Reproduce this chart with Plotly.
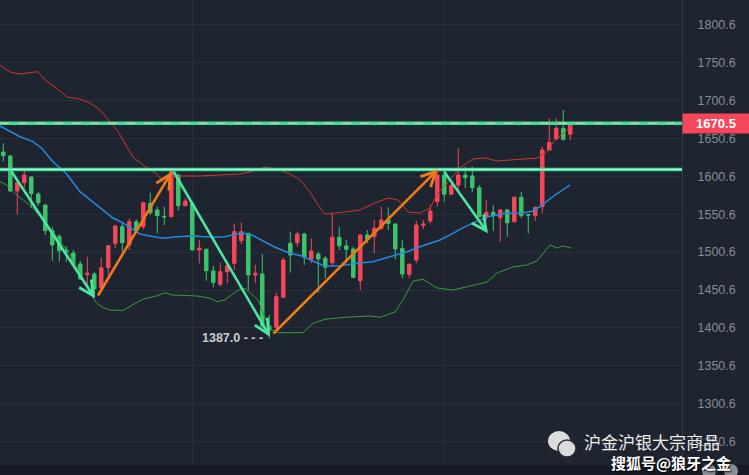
import plotly.graph_objects as go

# ---------------- data ----------------
opens = [1632.5, 1627.2, 1581.1, 1592.0, 1599.5, 1577.1, 1562.6, 1528.8, 1520.9, 1503.4,
         1499.4, 1484.9, 1470.8, 1471.7, 1453.7, 1480.0, 1512.2, 1534.0, 1510.0, 1540.6,
         1534.0, 1564.9, 1556.1, 1547.6, 1547.3, 1602.2, 1561.7, 1564.9, 1503.4, 1504.3,
         1475.7, 1458.2, 1474.8, 1485.8, 1515.6, 1525.3, 1470.4, 1471.7, 1403.3, 1401.5,
         1441.1, 1512.2, 1513.0, 1524.4, 1491.5, 1498.1, 1492.4, 1486.6, 1520.1, 1508.7,
         1504.7, 1462.9, 1523.1, 1520.9, 1532.0, 1542.9, 1537.6, 1505.6, 1471.4, 1490.2,
         1535.9, 1541.6, 1567.0, 1602.2, 1576.8, 1589.0, 1602.2, 1600.9, 1585.4, 1547.3,
         1553.0, 1545.9, 1556.1, 1540.6, 1572.8, 1549.8, 1548.6, 1560.4, 1635.1, 1649.6,
         1663.7, 1655.8]
highs = [1644.0, 1628.5, 1593.0, 1607.9, 1600.5, 1580.2, 1563.5, 1534.0, 1524.4, 1508.7,
         1503.4, 1488.9, 1494.5, 1474.8, 1493.2, 1510.0, 1536.5, 1538.5, 1544.6, 1543.8,
         1567.0, 1578.9, 1560.4, 1560.4, 1609.7, 1603.0, 1571.9, 1567.0, 1516.5, 1505.0,
         1482.3, 1486.6, 1486.6, 1538.5, 1539.3, 1526.0, 1483.6, 1498.1, 1417.7, 1447.1,
         1493.7, 1527.5, 1527.5, 1526.2, 1518.8, 1501.1, 1495.4, 1551.7, 1534.0, 1516.5,
         1507.7, 1524.0, 1529.7, 1542.9, 1560.4, 1559.6, 1538.5, 1516.5, 1485.5, 1542.0,
         1542.9, 1562.6, 1606.5, 1603.0, 1591.6, 1637.4, 1613.1, 1613.1, 1589.0, 1569.3,
         1562.6, 1557.4, 1557.0, 1573.6, 1580.2, 1550.5, 1560.5, 1639.5, 1676.9, 1676.9,
         1687.8, 1671.5]
lows = [1619.7, 1579.5, 1550.4, 1585.1, 1558.7, 1561.4, 1523.1, 1489.3, 1487.9, 1487.6,
        1483.5, 1464.0, 1455.0, 1441.9, 1450.6, 1470.4, 1506.0, 1501.1, 1503.4, 1527.5,
        1530.6, 1549.5, 1525.3, 1536.3, 1546.5, 1555.2, 1561.0, 1502.5, 1485.8, 1462.9,
        1454.2, 1455.0, 1459.5, 1477.0, 1511.3, 1450.6, 1459.5, 1400.2, 1387.0, 1398.9,
        1440.0, 1473.5, 1507.7, 1483.6, 1485.8, 1447.1, 1466.1, 1483.6, 1503.4, 1485.8,
        1466.5, 1450.6, 1512.2, 1499.0, 1529.7, 1529.7, 1491.1, 1466.1, 1466.1, 1485.8,
        1531.0, 1538.5, 1560.4, 1567.0, 1576.0, 1582.4, 1584.7, 1579.4, 1546.5, 1542.9,
        1528.4, 1514.3, 1520.9, 1540.0, 1545.6, 1525.3, 1541.6, 1551.7, 1634.0, 1648.3,
        1647.6, 1648.3]
closes = [1627.6, 1581.1, 1592.0, 1602.2, 1577.5, 1565.7, 1528.8, 1510.0, 1502.4, 1500.8,
          1484.5, 1465.2, 1472.7, 1452.4, 1480.0, 1509.0, 1535.0, 1513.0, 1540.6, 1528.8,
          1565.7, 1552.5, 1548.6, 1547.0, 1606.5, 1561.7, 1567.9, 1503.4, 1506.0, 1476.1,
          1460.8, 1474.8, 1482.3, 1527.5, 1527.5, 1470.4, 1472.7, 1403.3, 1398.0, 1441.9,
          1490.2, 1496.8, 1524.4, 1493.7, 1502.0, 1491.5, 1480.6, 1520.1, 1509.0, 1504.3,
          1467.4, 1523.1, 1517.5, 1532.0, 1542.9, 1538.5, 1504.7, 1471.7, 1484.5, 1536.3,
          1537.6, 1554.8, 1602.2, 1576.8, 1588.1, 1602.2, 1598.6, 1585.4, 1547.3, 1553.0,
          1548.6, 1556.1, 1539.3, 1572.8, 1548.6, 1549.2, 1559.6, 1635.1, 1645.3, 1663.7,
          1649.2, 1670.5]
bar_index = list(range(len(opens)))

# Bollinger bands (sampled along bar index)
upper_x = [-0.47, 0.96, 2.39, 3.81, 4.96, 5.96, 7.39, 9.1, 10.96, 12.39, 13.81, 15.24, 16.24,
           18.53, 19.96, 21.96, 23.1, 24.1, 25.53, 28.1, 30.96, 33.81, 35.24, 37.39, 39.53,
           41.24, 42.39, 43.81, 44.96, 45.96, 48.81, 50.96, 53.1, 54.96, 56.39, 57.81, 59.53,
           60.96, 62.1, 63.81, 65.24, 67.1, 68.81, 70.53, 72.39, 74.53, 76.39, 77.67, 78.81,
           80.24, 81.24]
upper_y = [1747.1, 1737.9, 1735.3, 1736.6, 1738.3, 1727.3, 1718.1, 1705.0, 1702.3, 1697.0,
           1687.8, 1672.0, 1661.5, 1625.9, 1615.4, 1603.5, 1590.3, 1599.5, 1600.9, 1600.9,
           1602.2, 1603.5, 1606.1, 1612.7, 1608.8, 1602.2, 1595.6, 1579.8, 1562.7, 1550.8,
           1553.4, 1556.1, 1565.3, 1571.9, 1569.3, 1553.4, 1552.1, 1558.7, 1578.5, 1595.6,
           1611.4, 1623.3, 1624.6, 1620.6, 1621.9, 1623.3, 1624.6, 1632.5, 1648.3, 1658.8,
           1668.1]
mid_x = [-0.47, 0.53, 2.39, 4.24, 5.49, 7.1, 9.06, 10.96, 12.86, 14.77, 15.67, 17.1, 18.53,
         19.53, 20.53, 22.81, 24.81, 27.1, 29.96, 31.67, 34.1, 35.53, 38.67, 40.96, 42.67,
         43.39, 45.81, 47.96, 50.53, 52.81, 55.24, 57.67, 59.53, 62.39, 64.24, 65.24, 66.96,
         69.24, 71.67, 74.1, 75.67, 76.96, 78.81, 80.96]
mid_y = [1666.7, 1661.5, 1652.6, 1646.1, 1637.4, 1619.7, 1603.5, 1580.2, 1566.0, 1551.7,
         1545.5, 1538.9, 1529.7, 1524.4, 1522.5, 1518.8, 1520.9, 1521.8, 1520.1, 1520.9,
         1525.8, 1523.1, 1507.7, 1499.0, 1495.4, 1492.4, 1482.3, 1482.3, 1485.8, 1487.9,
         1494.5, 1501.1, 1507.7, 1516.5, 1525.3, 1530.6, 1538.5, 1547.3, 1551.7, 1551.7,
         1554.8, 1562.6, 1575.8, 1589.0]
lower_x = [-0.47, 0.49, 1.91, 3.81, 5.71, 7.63, 9.53, 10.96, 12.39, 13.34, 14.24, 15.24,
           17.1, 19.96, 21.91, 23.1, 24.1, 27.67, 29.53, 30.53, 31.67, 33.53, 34.53, 36.39,
           37.39, 38.34, 39.24, 42.81, 44.24, 45.96, 48.81, 52.39, 53.81, 55.96, 57.1, 58.53,
           59.96, 61.96, 64.24, 66.24, 69.1, 70.53, 72.81, 74.81, 76.24, 78.1, 79.1, 79.96,
           81.1]
lower_y = [1593.4, 1589.0, 1575.8, 1562.6, 1542.9, 1520.9, 1496.8, 1472.7, 1446.3, 1433.1,
           1427.6, 1424.3, 1423.7, 1438.8, 1442.8, 1447.1, 1444.1, 1442.8, 1439.7, 1435.2,
           1437.5, 1450.6, 1452.9, 1437.5, 1413.8, 1398.0, 1394.4, 1394.4, 1406.8, 1412.1,
           1414.7, 1416.4, 1414.7, 1421.7, 1437.5, 1462.5, 1464.7, 1453.3, 1450.6, 1454.6,
           1461.2, 1473.1, 1481.0, 1483.6, 1488.9, 1510.0, 1506.0, 1508.7, 1506.0]

# horizontal levels and axis ticks
resistance_levels = [1670.5, 1609.5]
last_price = 1670.5
low_label = 1387.0
low_bar = 38
tick_values = [1250.6, 1300.6, 1350.6, 1400.6, 1450.6, 1500.6, 1550.6, 1600.6,
               1650.6, 1700.6, 1750.6, 1800.6]
tick_labels = [f"{v:.1f}" for v in tick_values]

# swing arrows: (tail bar, tail price, head bar, head price, kind)
arrows = [
    (0.96, 1609.7, 13.1, 1439.7, "down"),
    (13.4, 1441.4, 24.06, 1606.5, "up"),
    (24.2, 1608.8, 38.1, 1389.1, "down"),
    (38.39, 1391.4, 62.1, 1609.7, "up"),
    (62.81, 1608.8, 69.24, 1525.4, "down"),
]

# ---------------- styling ----------------
BG = "#1e2531"
GRID = "#29303c"
UP = "#f5475a"
DOWN = "#3cc46b"
MINT = "#4fe3a2"
ORANGE = "#f27a16"

fig = go.Figure()

fig.add_trace(go.Scatter(x=upper_x, y=upper_y, mode="lines",
                         line=dict(color="#cf3530", width=1), hoverinfo="skip"))
fig.add_trace(go.Scatter(x=lower_x, y=lower_y, mode="lines",
                         line=dict(color="#3b9a3c", width=1), hoverinfo="skip"))
fig.add_trace(go.Scatter(x=mid_x, y=mid_y, mode="lines",
                         line=dict(color="#2688dc", width=1.5), hoverinfo="skip"))

fig.add_trace(go.Candlestick(
    x=bar_index, open=opens, high=highs, low=lows, close=closes,
    increasing=dict(line=dict(color=UP, width=1), fillcolor=UP),
    decreasing=dict(line=dict(color=DOWN, width=1), fillcolor=DOWN),
    whiskerwidth=0, hoverinfo="skip",
))

shapes = []
# support / resistance lines
for lvl in resistance_levels:
    shapes.append(dict(type="line", xref="paper", x0=0, x1=1, yref="y", y0=lvl, y1=lvl,
                       line=dict(color="#3fdc98", width=3.5), layer="above"))
shapes.append(dict(type="line", xref="paper", x0=0, x1=1, yref="y",
                   y0=resistance_levels[0], y1=resistance_levels[0],
                   line=dict(color="#e2d8a4", width=1, dash="dash"), layer="above"))
shapes.append(dict(type="line", xref="paper", x0=0, x1=1, yref="y",
                   y0=resistance_levels[1], y1=resistance_levels[1],
                   line=dict(color="#b5f6d8", width=1), layer="above"))
# bottom strip
shapes.append(dict(type="rect", xref="paper", yref="paper", x0=-0.01, x1=1.2, y0=-0.01,
                   y1=10 / 475, fillcolor="#161b23", line=dict(width=0), layer="above"))
# small gray icons in the bottom strip
for cx in [709, 731]:
    shapes.append(dict(type="circle", xref="paper", yref="paper",
                       x0=(cx - 7) / 682, x1=(cx + 7) / 682,
                       y0=(475 - 478) / 475, y1=(475 - 464) / 475,
                       fillcolor="#8a8f98", line=dict(width=0), layer="above"))
# WeChat-like bubbles
shapes.append(dict(type="circle", xref="paper", yref="paper",
                   x0=548 / 682, x1=570 / 682, y0=(475 - 451) / 475, y1=(475 - 431) / 475,
                   fillcolor="#dcdcdc", line=dict(width=0), layer="above"))
shapes.append(dict(type="circle", xref="paper", yref="paper",
                   x0=558 / 682, x1=576 / 682, y0=(475 - 457) / 475, y1=(475 - 440) / 475,
                   fillcolor="#dcdcdc", line=dict(color="#2a2f38", width=1.5), layer="above"))

annotations = []
for tx, ty, hx, hy, kind in arrows:
    annotations.append(dict(
        x=hx, y=hy, ax=tx, ay=ty, xref="x", yref="y", axref="x", ayref="y",
        text="", showarrow=True, arrowhead=5, arrowsize=1.1, arrowwidth=2.6,
        arrowcolor=MINT if kind == "down" else ORANGE, standoff=0,
    ))

annotations.append(dict(
    x=low_bar - 0.6, y=low_label, xref="x", yref="y", xanchor="right", yanchor="middle",
    text=f"{low_label:.1f} - - -", showarrow=False,
    font=dict(family="Liberation Sans, Arial", size=12.5, color="#c9cdd3", weight="bold"),
))

annotations.append(dict(
    x=1.0, y=last_price, xref="paper", yref="y", xanchor="left", yanchor="middle",
    text=f"<b>{last_price:.1f}</b>", showarrow=False, bgcolor="#f6465a",
    width=64, height=17, borderpad=1, align="center",
    font=dict(family="Liberation Sans, Arial", size=13, color="#ffffff"),
))

annotations.append(dict(
    x=582 / 682, y=(475 - 441) / 475, xref="paper", yref="paper", xanchor="left",
    yanchor="middle", text="沪金沪银大宗商品", showarrow=False,
    font=dict(family="Noto Sans CJK SC", size=17, color="#eeeeee"),
))
annotations.append(dict(
    x=733 / 682, y=(475 - 462) / 475, xref="paper", yref="paper", xanchor="right",
    yanchor="middle", text="<b>搜狐号@狼牙之金</b>", showarrow=False,
    font=dict(family="Noto Sans CJK SC", size=15, color="#ffffff",
              shadow="1px 1px 2px #000000"),
))

fig.update_layout(
    width=749, height=475,
    margin=dict(l=0, r=67, t=0, b=0),
    paper_bgcolor=BG, plot_bgcolor=BG,
    showlegend=False,
    shapes=shapes, annotations=annotations,
    xaxis=dict(range=[-0.47, 96.96], rangeslider=dict(visible=False),
               showticklabels=False, showgrid=True, gridcolor=GRID, gridwidth=1,
               tick0=27, dtick=36, zeroline=False, fixedrange=True),
    yaxis=dict(range=[1206.9, 1832.75], side="right", tickvals=tick_values,
               ticktext=tick_labels, showgrid=True, gridcolor=GRID, gridwidth=1,
               zeroline=False, showline=True, linecolor="#313946", linewidth=1,
               ticks="", ticklabelstandoff=12,
               tickfont=dict(family="Liberation Sans, Arial", size=12.5, color="#858c97")),
)

fig.write_html("out.html")
